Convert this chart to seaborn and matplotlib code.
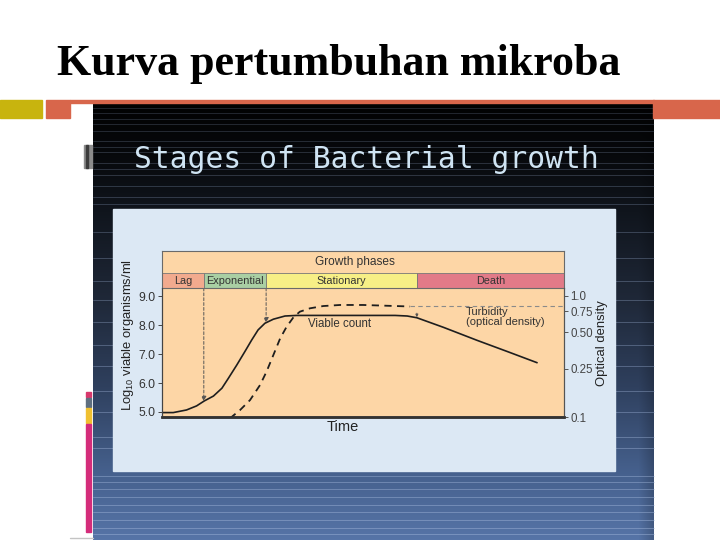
import numpy as np
import pandas as pd
import matplotlib
matplotlib.use("Agg")
import matplotlib.pyplot as plt
import seaborn as sns
from matplotlib.patches import Rectangle
from matplotlib import font_manager

# ---------------- data ----------------
phase_names = ["Lag", "Exponential", "Stationary", "Death"]
phase_starts = [0.0, 10.4, 25.9, 63.4]
phase_ends = [10.4, 25.9, 63.4, 100.0]
phase_colors = ["#f2aa8e", "#a9cfa3", "#f7ef86", "#e27a88"]

viable_time = [0.0, 2.8, 6.1, 8.6, 10.5, 12.8, 14.9, 16.5, 18.6, 20.6, 22.3,
               23.9, 25.6, 27.7, 30.6, 33.5, 45.0, 58.0, 61.0, 63.4, 70.0,
               78.4, 86.0, 93.3]
viable_log = [4.98, 4.98, 5.07, 5.21, 5.38, 5.55, 5.82, 6.16, 6.62, 7.08, 7.48,
              7.83, 8.06, 8.20, 8.31, 8.33, 8.33, 8.33, 8.31, 8.25, 7.92,
              7.47, 7.08, 6.70]

turb_time = [16.9, 19.4, 21.9, 24.4, 26.0, 27.7, 29.4, 31.0, 32.7, 34.3,
             36.8, 40.1, 44.3, 50.0, 61.7]
turb_od = [0.0975, 0.114, 0.138, 0.184, 0.237, 0.325, 0.447, 0.557, 0.667,
           0.742, 0.791, 0.826, 0.843, 0.843, 0.819]
turb_tail_time = [61.7, 100.0]
turb_tail_od = [0.819, 0.819]

left_ticks = [5.0, 6.0, 7.0, 8.0, 9.0]
right_ticks = [0.1, 0.25, 0.5, 0.75, 1.0]
right_labels = ["0.1", "0.25", "0.50", "0.75", "1.0"]

slide_title = "Kurva pertumbuhan mikroba"
panel_title = "Stages of Bacterial growth"

# ---------------- style ----------------
sns.set_theme(style="white")
names = {f.name for f in font_manager.fontManager.ttflist}
sans = "Liberation Sans" if "Liberation Sans" in names else "DejaVu Sans"
narrow = "Liberation Sans Narrow" if "Liberation Sans Narrow" in names else sans
plt.rcParams["font.family"] = [sans, "DejaVu Sans"]
plt.rcParams["mathtext.default"] = "regular"

W, H = 720, 540
fig = plt.figure(figsize=(7.2, 5.4), dpi=100, facecolor="white")

# background / decoration layer in pixel coordinates
bg = fig.add_axes([0, 0, 1, 1])
bg.set_xlim(0, W)
bg.set_ylim(H, 0)
bg.axis("off")

# top accents
bg.add_patch(Rectangle((0, 100), 42, 18, color="#c8b40e", zorder=2))
bg.add_patch(Rectangle((46, 100), 24, 18, color="#d8664b", zorder=2))
bg.add_patch(Rectangle((70, 100), 584, 3, color="#d8664b", zorder=2))
bg.add_patch(Rectangle((653, 100), 67, 18, color="#d8664b", zorder=2))

# dark gradient panel
stops_f = [0.0, 0.12, 0.25, 0.45, 0.65, 0.85, 1.0]
stops_c = ["#020202", "#07090c", "#10151d", "#1f2838", "#2f405e", "#46618e", "#5674a7"]
rows = np.linspace(0, 1, 438)
rgb_stops = np.array([matplotlib.colors.to_rgb(c) for c in stops_c])
col = np.stack([np.interp(rows, stops_f, rgb_stops[:, k]) for k in range(3)], axis=1)
img = np.repeat(col[:, None, :], 561, axis=1)
shade = np.ones(561)
shade[-16:] = np.linspace(1.0, 0.8, 16)
img = img * shade[None, :, None]
bg.imshow(img, extent=(93, 654, 540, 102), aspect="auto", zorder=1,
          interpolation="bilinear")
scan_y = [108, 113, 119, 124, 131, 141, 147, 152, 163, 169, 175, 186, 197,
          204, 232, 258, 281, 300, 322, 345, 366, 391, 412, 437, 448, 476,
          482, 489, 497, 505, 512, 520, 528, 534]
for yy in scan_y:
    bg.plot([93, 654], [yy, yy], color="#9fb4d8", lw=0.6,
            alpha=0.22 + 0.35 * (yy - 100) / 440, zorder=1.5)

# little bar left of the panel title
bg.add_patch(Rectangle((84, 145), 8, 23, color="#8c8c8c", zorder=2))
bg.add_patch(Rectangle((86, 145), 2, 23, color="#3c3c3c", zorder=2.1))

# left coloured strip
bg.add_patch(Rectangle((86, 392), 5, 5, color="#d8386c", zorder=2))
bg.add_patch(Rectangle((86, 398), 5, 9, color="#5f6f80", zorder=2))
bg.add_patch(Rectangle((86, 408), 5, 15, color="#f0c030", zorder=2))
bg.add_patch(Rectangle((86, 424), 5, 108, color="#d42c7a", zorder=2))
bg.plot([70, 93], [538, 538], color="#c4c4c4", lw=1, zorder=2)

# light blue picture box
bg.add_patch(Rectangle((113, 209), 502, 262, color="#dce8f4", zorder=3))

# titles
bg.text(57, 75, slide_title, family=["Liberation Serif", "DejaVu Serif"],
        weight="bold", fontsize=31.7, color="#000000", va="baseline", ha="left",
        zorder=4)
bg.text(134, 168, panel_title, family=["DejaVu Sans Mono"], fontsize=21.3,
        color="#cfe4f3", va="baseline", ha="left", zorder=4)

peach = "#fdd6a6"
xl, xr = 162, 564
ax = fig.add_axes([xl / W, 1 - 417 / H, (xr - xl) / W, 129 / H], zorder=5)
axh = fig.add_axes([xl / W, 1 - 288 / H, (xr - xl) / W, 37 / H], zorder=5)

# ---------------- header (growth phases) ----------------
axh.set_facecolor(peach)
axh.set_xlim(0, 100)
axh.set_ylim(0, 1)
band_h = 15 / 37
axh.bar(phase_starts, [band_h] * 4,
        width=[e - s for s, e in zip(phase_starts, phase_ends)],
        align="edge", color=phase_colors, edgecolor="#777777", linewidth=0.6)
for n, s, e in zip(phase_names, phase_starts, phase_ends):
    axh.text((s + e) / 2, band_h / 2, n, ha="center", va="center",
             fontsize=7.8, color="#333333")
axh.text(48.0, 0.71, "Growth phases", ha="center", va="center",
         fontsize=8.6, color="#333333")
axh.set_xticks([])
axh.set_yticks([])
for sp in axh.spines.values():
    sp.set_color("#6a6a6a")
    sp.set_linewidth(0.8)

# ---------------- main plot ----------------
ax.set_facecolor(peach)
ylo, yhi = 5 - 5 / 29, 9 + 8 / 29
ax.set_xlim(0, 100)
ax.set_ylim(ylo, yhi)

sns.lineplot(x=viable_time, y=viable_log, ax=ax, color="#1e1e1e", lw=1.2,
             sort=False, estimator=None)

ax2 = ax.twinx()
ax2.set_yscale("log")
ax2.set_ylim(0.1, 10 ** (8 / 121))
sns.lineplot(x=turb_time, y=turb_od, ax=ax2, color="#1e1e1e", lw=1.3,
             linestyle=(0, (4, 3)), sort=False, estimator=None)
sns.lineplot(x=turb_tail_time, y=turb_tail_od, ax=ax2, color="#8a8a8a",
             lw=0.8, linestyle=(0, (4, 3)), sort=False, estimator=None)

# phase boundary arrows
for t in phase_ends[:2]:
    v = float(np.interp(t, viable_time, viable_log))
    ax.annotate("", xy=(t, v), xytext=(t, yhi),
                arrowprops=dict(arrowstyle="-|>", color="#555555", lw=0.7,
                                linestyle=(0, (3, 2)), mutation_scale=7,
                                shrinkA=0, shrinkB=0))
t = phase_starts[3]
v = float(np.interp(t, viable_time, viable_log))
ax.annotate("", xy=(t, v + 0.02), xytext=(t, v + 0.16),
            arrowprops=dict(arrowstyle="-|>", color="#555555", lw=0.6,
                            mutation_scale=4, shrinkA=0, shrinkB=0))

ax.text(36.3, 8.03, "Viable count", fontsize=8.3, color="#333333",
        va="center", ha="left")
ax.text(75.6, 8.45, "Turbidity", fontsize=8.0, color="#333333",
        va="center", ha="left")
ax.text(75.6, 8.10, "(optical density)", fontsize=8.0, color="#333333",
        va="center", ha="left")

ax.set_xticks([])
ax.set_yticks(left_ticks)
ax.set_yticklabels([f"{x:.1f}" for x in left_ticks])
ax.tick_params(axis="y", direction="out", length=3, width=0.7, color="#444444",
               labelsize=8.8, labelcolor="#333333", pad=1.5, left=True)
ax2.set_yticks(right_ticks)
ax2.set_yticklabels(right_labels)
ax2.yaxis.set_minor_locator(matplotlib.ticker.NullLocator())
ax2.tick_params(axis="y", direction="out", length=3, width=0.7,
                color="#555555", labelsize=8.3, labelcolor="#444444", pad=1.5,
                right=True)
ax.set_xlabel("")
ax.set_ylabel("")
ax2.set_ylabel("")

for a in (ax, ax2):
    a.spines["top"].set_visible(False)
    a.spines["left"].set_color("#444444")
    a.spines["left"].set_linewidth(0.8)
    a.spines["right"].set_color("#555555")
    a.spines["right"].set_linewidth(0.8)
    a.spines["bottom"].set_color("#333333")
    a.spines["bottom"].set_linewidth(1.8)

ax.text((343 - xl) / (xr - xl), -0.078, "Time", transform=ax.transAxes,
        ha="center", va="center", fontsize=10.5, color="#222222")
ax.text((128 - xl) / (xr - xl), (417 - 335) / 129, "Log$_{10}$ viable organisms/ml",
        transform=ax.transAxes, rotation=90, ha="center", va="center",
        fontsize=9.4, color="#222222", family=[narrow, "DejaVu Sans"])
ax.text((602 - xl) / (xr - xl), (417 - 343) / 129, "Optical density",
        transform=ax.transAxes, rotation=90, ha="center", va="center",
        fontsize=9.4, color="#222222", family=[narrow, "DejaVu Sans"])

fig.savefig("out.png", dpi=100, facecolor="white")
